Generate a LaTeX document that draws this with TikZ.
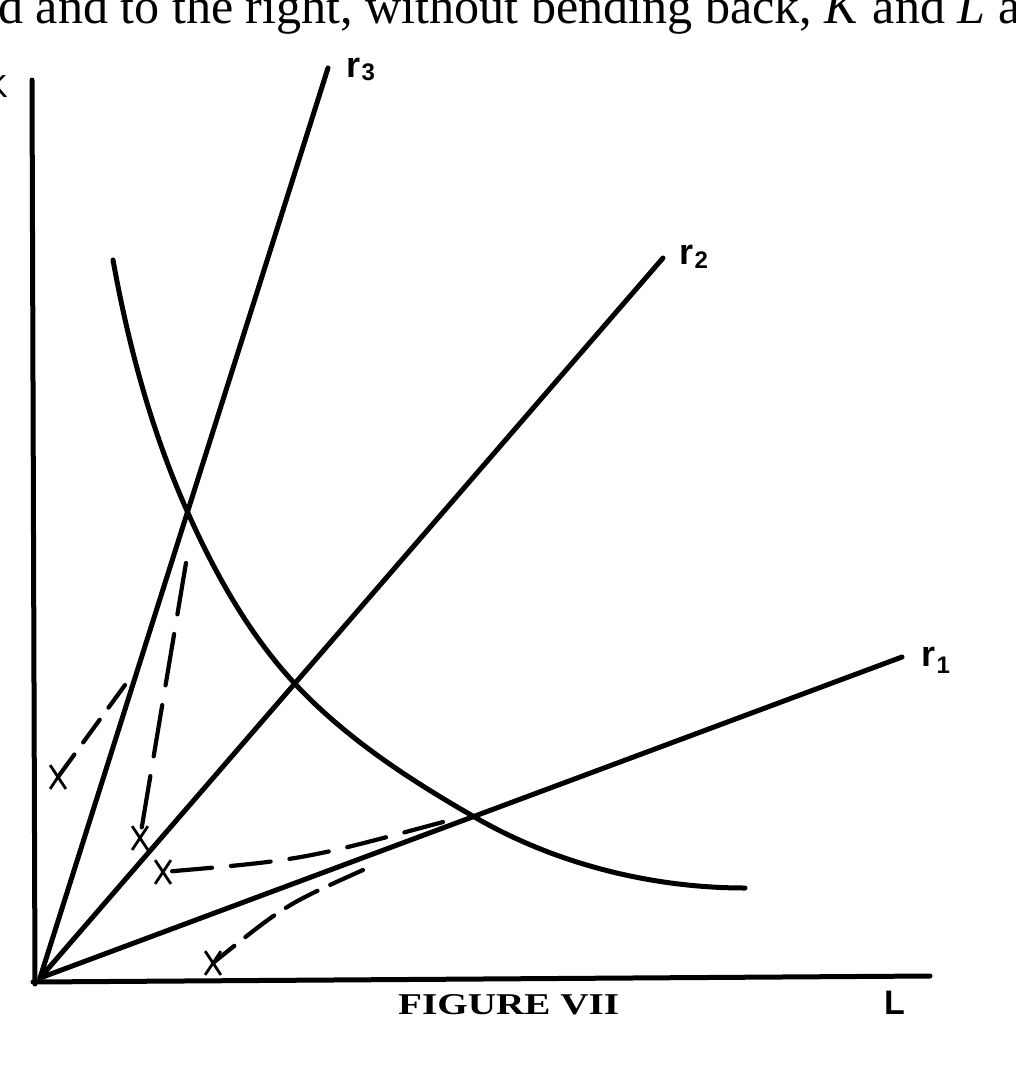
\documentclass[tikz,border=0pt]{standalone}
\usepackage{fontspec}
\usepackage{graphicx}
\setmainfont{Liberation Serif}
\newfontfamily\lettering{Liberation Sans}
\usetikzlibrary{shapes.misc}
\newcommand{\rlab}[2][-5pt]{{\lettering\bfseries\fontsize{36}{36}\selectfont r\kern1.5pt\raisebox{#1}{\fontsize{24}{24}\selectfont #2}}}
\tikzset{
  solidline/.style={line width=5pt, line cap=round},
  dashline/.style={line width=4.2pt, line cap=round},
  xmark/.style={cross out, draw, line width=2.8pt, minimum width=13pt, minimum height=21pt, inner sep=0pt},
  lbl/.style={inner sep=0pt, anchor=base west}
}
\begin{document}
\begin{tikzpicture}[x=1pt, y=-1pt]
\useasboundingbox (0,0) rectangle (1016,1067);
% cut-off running text at the top of the page
\node[inner sep=0pt, anchor=base west] (toptext) at (-2,24)
  {\resizebox{1022pt}{!}{\fontsize{48}{48}\selectfont d and to the right, without bending back, \textit{K} and \textit{L} a}};
% axes
\coordinate (O) at (40,978);
\coordinate (Ktop) at (32,80);
\coordinate (Kbot) at (35,984);
\coordinate (Lleft) at (33,982);
\coordinate (Lend) at (930,976);
\draw[solidline] (Ktop) -- (Kbot);
\draw[solidline] (Lleft) -- (Lend);
\node[inner sep=0pt, anchor=base east] (Klab) at (8,98) {\lettering\fontsize{32}{32}\selectfont K};
\node[lbl] (Llab) at (884,1014) {\lettering\bfseries\fontsize{34}{34}\selectfont L};
% rays
\coordinate (e3) at (328,68);
\coordinate (e2) at (663,258);
\coordinate (e1) at (902,657);
\draw[solidline] (O) -- (e3);
\draw[solidline] (O) -- (e2);
\draw[solidline] (O) -- (e1);
\node[lbl] (r3) at (346,78) {\rlab[-3pt]{3}};
\node[lbl] (r2) at (679,265) {\rlab[-4pt]{2}};
\node[lbl] (r1) at (921,666) {\rlab[-7pt]{1}};
% isoquant
\coordinate (q0) at (113,260);
\coordinate (q1) at (188,513);
\coordinate (q2) at (298,687);
\coordinate (q3) at (478,819);
\coordinate (q4) at (745,888);
\draw[solidline] (q0) .. controls (128.6,346.6) and (152,433) .. (q1)
  .. controls (216,575.6) and (250.7,637.3) .. (q2)
  .. controls (349.3,740.9) and (413.4,782.1) .. (q3)
  .. controls (557.9,864.6) and (653,888) .. (q4);
% displaced points and dashed paths
\node[xmark] (x1) at (58,777) {};
\node[xmark] (x2) at (140,838) {};
\node[xmark] (x3) at (163,872) {};
\node[xmark] (x4) at (213,963) {};
\coordinate (s1) at (125,685);
\coordinate (s2) at (186,563);
\coordinate (s3) at (443,822);
\coordinate (s4) at (363,870);
\draw[dashline, dash pattern=on 28pt off 15pt] (s1) -- (x1.center);
\draw[dashline, dash pattern=on 52pt off 20pt] (s2) -- (x2.center);
\draw[dashline, dash pattern=on 40pt off 19pt] (s3) .. controls (302,860) .. (x3.center);
\draw[dashline, dash pattern=on 36pt off 14pt] (s4) .. controls (285,905) .. (x4.center);
% caption
\node[lbl] (caption) at (398,1014) {\resizebox{221pt}{20pt}{\bfseries FIGURE VII}};
\end{tikzpicture}
\end{document}
